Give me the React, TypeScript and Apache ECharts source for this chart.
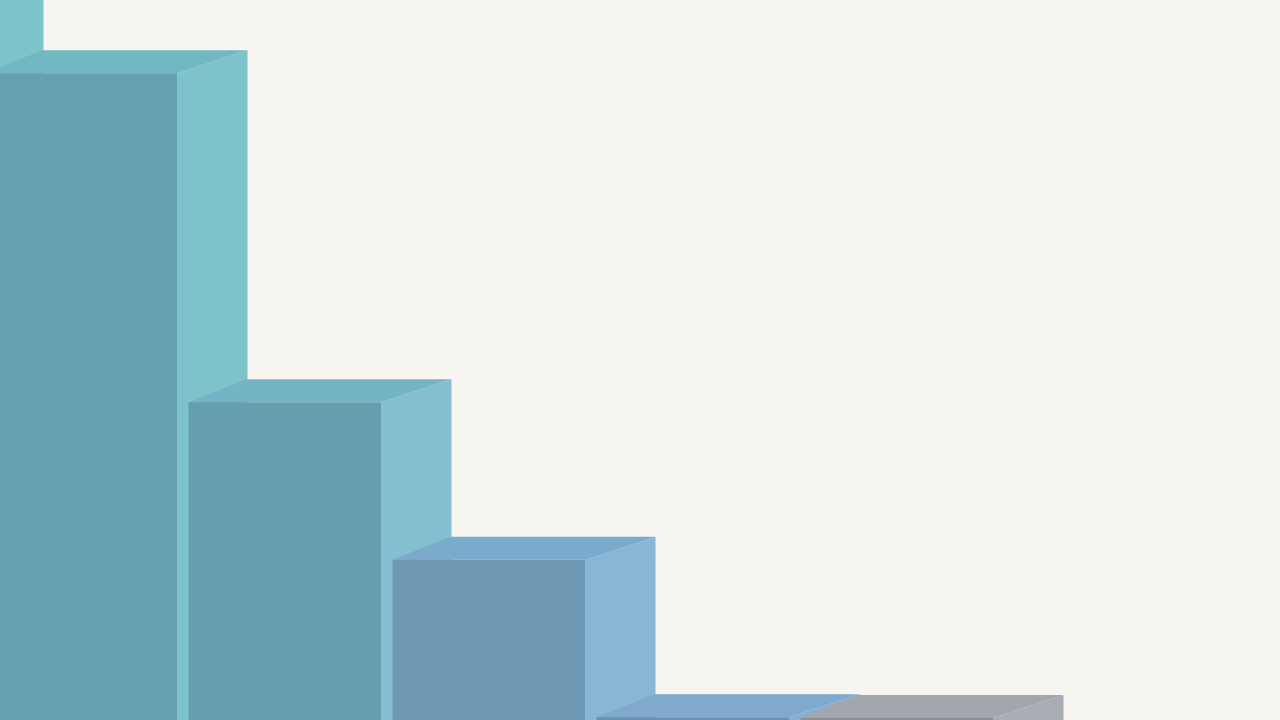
import React, { useEffect, useRef } from "react";
import * as echarts from "echarts";

const categories = ["A", "B", "C", "D", "E", "F"];
const values = [118, 98.1, 51.1, 28.6, 6.1, 6.0];
const frontColors = ["#62a0ac", "#64a0ad", "#659fad", "#6e97b4", "#6e90af", "#8b8e95"];
const sideColors = ["#7cc4c9", "#7ec3c9", "#83bfd0", "#89b6d5", "#86aed0", "#a9acb2"];
const topColors = ["#74bcc5", "#71b8c3", "#74b4c4", "#7aaacc", "#80aacb", "#a2a6ad"];

export default function App() {
  const ref = useRef<HTMLDivElement>(null);
  useEffect(() => {
    if (!ref.current) return;
    const chart = echarts.init(ref.current, undefined, { renderer: "svg" });
    const DX = 70;
    const DXL = 58;
    const DY = 23;
    chart.setOption({
      animation: false,
      backgroundColor: "#f7f5f1",
      grid: {
        left: -225,
        width: 1224,
        top: -150,
        height: 910,
        outerBoundsMode: "none",
        containLabel: false,
      },
      xAxis: { type: "category", data: categories, show: false },
      yAxis: { type: "value", min: 0, max: 130, show: false },
      series: [
        {
          type: "custom",
          clip: false,
          data: categories.map((c, i) => [i, values[i]]),
          renderItem: (params: any, api: any) => {
            const i = params.dataIndex;
            const idx = api.value(0);
            const val = api.value(1);
            const top = api.coord([idx, val]);
            const base = api.coord([idx, 0]);
            const bw = api.size([1, 0])[0];
            const w = bw * 0.946;
            const x0 = top[0] - w / 2;
            const x1 = x0 + w;
            const yT = top[1];
            const yB = base[1];
            const z = 10 + i * 3;
            return {
              type: "group",
              children: [
                {
                  type: "polygon",
                  z2: z,
                  shape: {
                    points: [
                      [x1, yT],
                      [x1 + DX, yT - DY],
                      [x1 + DX, yB - DY],
                      [x1, yB],
                    ],
                  },
                  style: { fill: sideColors[i] },
                },
                {
                  type: "polygon",
                  z2: z + 1,
                  shape: {
                    points: [
                      [x0, yT],
                      [x0 + DXL, yT - DY],
                      [x1 + DX, yT - DY],
                      [x1, yT],
                    ],
                  },
                  style: { fill: topColors[i] },
                },
                {
                  type: "rect",
                  z2: z + 2,
                  shape: { x: x0, y: yT, width: w, height: yB - yT },
                  style: { fill: frontColors[i] },
                },
              ],
            };
          },
        },
      ],
    });
    return () => chart.dispose();
  }, []);
  return (
    <div
      ref={ref}
      style={{ position: "fixed", left: 0, top: 0, width: 1280, height: 720 }}
    />
  );
}
